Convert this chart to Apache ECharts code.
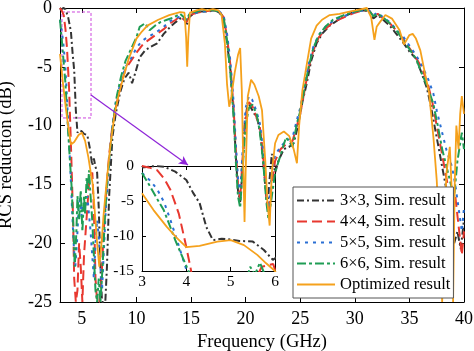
<!DOCTYPE html>
<html><head><meta charset="utf-8">
<script src="https://cdn.jsdelivr.net/npm/echarts@6/dist/echarts.min.js"></script>
<style>html,body{margin:0;padding:0;background:#fff}#c{width:474px;height:351px}</style>
</head><body><div id="c"></div>
<script>
const xTicks=[5,10,15,20,25,30,35,40];
const yTicks=[-25,-20,-15,-10,-5,0];
const insetXTicks=[3,4,5,6];
const insetYTicks=[-15,-10,-5,0];
const names=['3×3, Sim. result','4×4, Sim. result','5×5, Sim. result','6×6, Sim. result','Optimized result'];

const s3x3=[[3,-0.2],[3.3,0],[3.5,-0.1],[3.75,-0.8],[4.0,-2],[4.15,-3.8],[4.3,-5.3],[4.45,-8.7],[4.6,-10.6],[4.8,-10.4],[5.0,-10.5],[5.2,-10.7],[5.5,-10.8],[5.75,-12],[5.95,-13.4],[6.1,-12.8],[6.25,-13.5],[6.4,-14],[6.55,-17],[6.7,-22],[6.85,-25],[7.0,-25],[7.15,-25],[7.3,-22],[7.5,-16],[7.8,-11],[8.1,-9],[8.5,-7.2],[8.9,-6],[9.3,-5.5],[9.6,-6.4],[9.9,-5.5],[10.3,-4.2],[10.8,-3.6],[11.3,-3.3],[11.9,-3.0],[12.5,-2.2],[13.1,-1.6],[13.6,-1.2],[14.0,-0.9],[14.4,-0.8],[14.6,-1.5],[14.8,-0.8],[15.2,-0.5],[15.8,-0.3],[16.5,-0.3],[17.2,-0.2],[17.6,-0.4],[18.0,-1.0],[18.3,-3],[18.6,-5.2],[18.9,-9],[19.1,-12.5],[19.3,-15.5],[19.5,-16.5],[19.7,-14],[19.9,-10],[20.2,-8],[20.5,-8.5],[20.8,-9],[21.1,-9.5],[21.4,-11],[21.7,-14],[22.0,-17],[22.2,-14.5],[22.4,-12.4],[22.7,-14],[23.0,-13],[23.5,-12],[24.0,-11.8],[24.4,-11.5],[24.8,-10],[25.2,-8],[25.6,-6.4],[26.0,-4.5],[26.5,-3.0],[27,-2.2],[27.7,-1.5],[28.5,-1.0],[29.3,-0.6],[30,-0.3],[30.8,-0.2],[31.3,-0.3],[31.7,-0.9],[32.1,-0.6],[32.6,-1.0],[33.2,-1.5],[33.8,-2.2],[34.4,-2.9],[35,-3.7],[35.6,-4.3],[36.1,-5.5],[36.6,-6.8],[37.0,-8.5],[37.4,-10.5],[37.8,-12.5],[38.2,-14.5],[38.5,-16],[38.8,-18],[39.1,-20],[39.4,-19],[39.7,-20.5],[40,-18]];

const s4x4=[[3,0],[3.15,-0.2],[3.34,-0.6],[3.5,-1.8],[3.64,-3.4],[3.83,-6.8],[3.98,-11],[4.09,-14.4],[4.2,-18],[4.3,-23],[4.45,-25],[4.6,-24],[4.75,-20],[4.9,-22],[5.05,-25],[5.2,-21],[5.35,-19],[5.5,-17],[5.7,-14.4],[5.96,-14],[6.1,-17],[6.25,-23],[6.4,-25],[6.6,-25],[6.8,-23],[7.0,-19],[7.2,-16],[7.5,-12.5],[7.8,-10],[8.1,-8.5],[8.5,-6.8],[9.0,-5.2],[9.5,-4.5],[10,-3.8],[10.5,-3.2],[11,-2.8],[11.9,-2.2],[12.5,-1.8],[13.1,-1.3],[13.6,-1.0],[14.0,-0.7],[14.6,-1.2],[14.9,-0.6],[15.5,-0.4],[16.2,-0.3],[17,-0.2],[17.6,-0.3],[18.0,-0.8],[18.3,-2.5],[18.6,-4.8],[18.9,-8.5],[19.1,-12],[19.3,-15],[19.5,-16.3],[19.7,-13],[20.0,-9.5],[20.3,-8],[20.6,-8.3],[21.0,-9.3],[21.3,-10.1],[21.6,-12.5],[21.9,-16],[22.1,-17.5],[22.4,-15],[22.7,-13],[23.2,-12],[23.7,-11.6],[24.3,-11.3],[24.7,-10],[25.0,-9],[25.4,-7],[25.8,-5],[26.2,-3.6],[26.7,-2.5],[27.3,-1.8],[28,-1.2],[29,-0.8],[30,-0.4],[30.8,-0.2],[31.3,-0.2],[31.7,-0.7],[32.1,-0.5],[32.6,-0.9],[33.2,-1.3],[33.8,-1.9],[34.4,-2.6],[35,-3.4],[35.6,-4.2],[36.2,-5.2],[36.7,-6.5],[37.1,-8],[37.5,-10],[37.9,-12],[38.3,-14],[38.6,-15.5],[38.9,-17.5],[39.2,-16],[39.5,-18.5],[39.8,-21],[40,-19]];

const s5x5=[[3,-1],[3.17,-2],[3.34,-3.3],[3.5,-5.2],[3.64,-7.7],[3.75,-9.8],[3.86,-12],[3.98,-14.4],[4.1,-17],[4.25,-20],[4.4,-22],[4.55,-20],[4.7,-17],[4.85,-16],[5.0,-18],[5.15,-16.5],[5.3,-17],[5.5,-16],[5.65,-17.5],[5.8,-19],[5.95,-21],[6.1,-23],[6.25,-20],[6.4,-18],[6.55,-19.5],[6.7,-22],[6.85,-24],[7.0,-21],[7.2,-17],[7.5,-13],[7.8,-10],[8.1,-8],[8.5,-6.5],[9.0,-5.0],[9.5,-4.3],[10,-3.4],[10.5,-2.8],[11,-2.5],[11.9,-2.0],[12.5,-1.6],[13.1,-1.1],[13.6,-0.9],[14,-0.7],[14.6,-1.1],[14.9,-0.6],[15.5,-0.4],[16.2,-0.3],[17,-0.2],[17.6,-0.3],[18.0,-0.7],[18.3,-2.2],[18.6,-4.5],[18.9,-8],[19.1,-11.5],[19.3,-14.5],[19.5,-15.8],[19.7,-12.5],[20.0,-8.5],[20.3,-7.5],[20.6,-7.8],[21.0,-8.8],[21.3,-9.8],[21.6,-12],[21.9,-15.5],[22.1,-17],[22.4,-14],[22.7,-12.5],[23.2,-11.8],[23.7,-11.3],[24.3,-11],[24.7,-9.5],[25.0,-8.5],[25.4,-6.5],[25.8,-4.7],[26.2,-3.3],[26.7,-2.3],[27.3,-1.6],[28,-1.1],[29,-0.7],[30,-0.35],[30.8,-0.2],[31.3,-0.2],[31.7,-0.6],[32.1,-0.4],[32.6,-0.8],[33.2,-1.2],[33.8,-1.8],[34.4,-2.4],[35,-3.2],[35.6,-4.0],[36.2,-5.0],[36.7,-6.0],[37.2,-7.3],[37.5,-8.7],[38.0,-10.6],[38.4,-12.1],[38.9,-13.5],[39.2,-15],[39.5,-17],[39.8,-19],[40,-17]];

const s6x6=[[3,-1],[3.19,-3],[3.35,-4.8],[3.49,-6.3],[3.62,-8.4],[3.75,-10.6],[3.94,-13.4],[4.05,-15],[4.2,-18],[4.35,-22],[4.5,-19],[4.6,-16],[4.75,-18],[4.9,-15.5],[5.05,-19],[5.2,-16],[5.3,-17.5],[5.44,-14.4],[5.55,-15.5],[5.66,-13.8],[5.8,-16],[5.95,-18],[6.1,-21],[6.25,-24],[6.4,-25],[6.55,-23],[6.7,-25],[6.9,-22],[7.1,-18],[7.3,-15],[7.6,-12],[7.9,-9.5],[8.2,-7.5],[8.6,-5.8],[9.0,-4.5],[9.5,-3.5],[10,-2.5],[10.3,-1.6],[10.8,-1.3],[11.2,-1.9],[11.7,-1.5],[12.2,-1.2],[12.8,-1.0],[13.4,-0.8],[14,-0.5],[14.6,-1.0],[14.9,-0.4],[15.5,-0.3],[16.2,-0.2],[17,-0.2],[17.6,-0.3],[18.0,-0.9],[18.3,-2.8],[18.6,-5.5],[18.9,-9.2],[19.1,-13],[19.3,-16],[19.5,-17],[19.7,-14],[20.0,-10],[20.3,-8.5],[20.6,-8.2],[21.0,-9.0],[21.3,-10.5],[21.6,-13],[21.9,-16.5],[22.1,-18],[22.4,-16],[22.7,-14],[23.2,-12.5],[23.7,-11],[24.3,-11.8],[24.7,-9.8],[25.0,-8.8],[25.4,-6.8],[25.8,-4.9],[26.2,-3.4],[26.7,-2.3],[27.3,-1.6],[28,-1.0],[29,-0.6],[30,-0.3],[30.8,-0.15],[31.3,-0.2],[31.7,-0.7],[32.1,-0.5],[32.6,-0.8],[33.2,-1.3],[33.8,-1.9],[34.4,-2.7],[35,-3.5],[35.6,-4.3],[36.2,-5.7],[36.7,-6.8],[37.2,-8.2],[37.6,-10],[38.0,-12],[38.4,-13.5],[38.8,-15],[39.1,-16],[39.4,-13],[39.8,-10.6],[40,-12]];

const sOpt=[[3,-3.9],[3.26,-6.3],[3.56,-8.7],[3.79,-10.3],[4.0,-11.6],[4.3,-11.4],[4.7,-10.8],[5.0,-10.6],[5.3,-11.3],[5.6,-12.7],[5.8,-13.9],[6.0,-15],[6.2,-17.5],[6.4,-20],[6.6,-22],[6.8,-20],[7.0,-17.5],[7.3,-14.5],[7.6,-11.8],[8.0,-9],[8.4,-7.3],[8.8,-5.9],[9.3,-4.3],[10.0,-2.6],[10.5,-2.0],[11,-1.5],[12,-1.0],[13,-0.6],[14,-0.35],[14.4,-0.4],[14.55,-2.5],[14.65,-5.0],[14.75,-2.5],[14.9,-0.4],[15.5,-0.2],[16,-0.1],[16.5,-0.2],[17,-0.1],[17.5,-0.2],[17.8,-0.6],[18.1,-3],[18.3,-6.5],[18.5,-8.4],[18.7,-7.5],[19.0,-5.5],[19.3,-4.0],[19.5,-3.4],[19.65,-7],[19.8,-14],[19.9,-18.2],[20.0,-14],[20.2,-7.5],[20.5,-6.1],[20.8,-6.5],[21.2,-7.5],[21.5,-8.7],[21.8,-13],[22.0,-16.5],[22.2,-18.5],[22.4,-14],[22.7,-11.5],[23.0,-10.8],[23.5,-10.5],[24.0,-10.9],[24.4,-12],[24.7,-13.2],[24.9,-10],[25.2,-7],[25.6,-4.8],[26.0,-2.6],[26.5,-1.5],[27,-1.0],[27.7,-0.6],[28.6,-0.5],[29.5,-0.3],[30.3,-0.15],[31.1,0],[31.5,-0.8],[31.8,-2.7],[32.0,-1.6],[32.3,-1.2],[32.8,-0.6],[33.4,-0.9],[34.1,-1.9],[34.5,-3.1],[35.0,-2.3],[35.3,-2.2],[35.6,-2.6],[36.0,-3.6],[36.5,-5.9],[36.8,-7.2],[37.2,-11],[37.5,-14.6],[37.8,-20],[38.0,-25],[38.2,-18],[38.4,-14],[38.7,-11.8],[38.9,-16],[39.0,-25],[39.15,-15],[39.3,-10],[39.5,-12],[39.65,-9],[39.8,-7.5],[40,-9]];

const zoomBox=[[3.18,-0.34],[5.84,-9.35]];
const arrowLine=[[5.84,-7.4],[14.72,-13.35]];

const FF='"Liberation Serif","Times New Roman",serif';
const colors=['#333333','#e8382f','#2a6fd4','#1f9d55','#f5a11c'];
const dashes=[[7,3,2,3],[10,5],[3,5],[9,3,3,3],'solid'];
const widths=[2,2,2,2,1.8];
const datas=[s3x3,s4x4,s5x5,s6x6,sOpt];

function axisBase(extra){
  return Object.assign({type:'value',splitLine:{show:false},
    axisLine:{onZero:false,lineStyle:{color:'#000',width:1}},
    axisTick:{inside:true,length:5,lineStyle:{color:'#000'}},
    axisLabel:{color:'#000',fontFamily:FF,fontSize:18}},extra);
}

const xAxes=[
  axisBase({gridIndex:0,min:3,max:40,position:'bottom',
    axisTick:{inside:true,length:5,customValues:xTicks,lineStyle:{color:'#000'}},
    axisLabel:{customValues:xTicks,color:'#000',fontFamily:FF,fontSize:18,margin:8},
    name:'Frequency (GHz)',nameLocation:'middle',nameGap:29,
    nameTextStyle:{color:'#000',fontFamily:FF,fontSize:18.5}}),
  axisBase({gridIndex:0,min:3,max:40,position:'top',
    axisTick:{inside:true,length:5,customValues:xTicks,lineStyle:{color:'#000'}},
    axisLabel:{show:false}}),
  axisBase({gridIndex:1,min:3,max:6,interval:1,position:'bottom',
    axisTick:{inside:true,length:4,lineStyle:{color:'#000'}},
    axisLabel:{color:'#000',fontFamily:FF,fontSize:15.5,margin:3}}),
  axisBase({gridIndex:1,min:3,max:6,interval:1,position:'top',
    axisTick:{inside:true,length:4,lineStyle:{color:'#000'}},axisLabel:{show:false}})
];
const yAxes=[
  axisBase({gridIndex:0,min:-25,max:0,interval:5,position:'left',
    axisTick:{inside:true,length:5,lineStyle:{color:'#000'}},
    axisLabel:{color:'#000',fontFamily:FF,fontSize:18,margin:8},
    name:'RCS reduction (dB)',nameLocation:'middle',nameGap:44,
    nameTextStyle:{color:'#000',fontFamily:FF,fontSize:18.5}}),
  axisBase({gridIndex:0,min:-25,max:0,interval:5,position:'right',
    axisTick:{inside:true,length:5,lineStyle:{color:'#000'}},axisLabel:{show:false}}),
  axisBase({gridIndex:1,min:-15,max:0,interval:5,position:'left',
    axisTick:{inside:true,length:4,lineStyle:{color:'#000'}},
    axisLabel:{color:'#000',fontFamily:FF,fontSize:15.5,margin:8}}),
  axisBase({gridIndex:1,min:-15,max:0,interval:5,position:'right',
    axisTick:{inside:true,length:4,lineStyle:{color:'#000'}},axisLabel:{show:false}})
];

const series=[];
for(let i=0;i<5;i++){
  series.push({name:names[i],type:'line',xAxisIndex:0,yAxisIndex:0,data:datas[i],
    symbol:'none',showSymbol:false,clip:true,silent:true,animation:false,z:2+i*0.01,
    lineStyle:{color:colors[i],width:widths[i],type:dashes[i]},itemStyle:{color:colors[i]}});
}
for(let i=0;i<5;i++){
  series.push({name:names[i],type:'line',xAxisIndex:2,yAxisIndex:2,data:datas[i],
    symbol:'none',showSymbol:false,clip:true,silent:true,animation:false,
    lineStyle:{color:colors[i],width:widths[i],type:dashes[i]},itemStyle:{color:colors[i]}});
}
series[4].markArea={silent:true,itemStyle:{color:'rgba(0,0,0,0)',borderColor:'#cc44dd',borderWidth:1,borderType:[3,2]},
  label:{show:false},data:[[{coord:zoomBox[0]},{coord:zoomBox[1]}]]};
series[4].markLine={silent:true,symbol:['none','arrow'],symbolSize:[7,9],label:{show:false},
  lineStyle:{color:'#8e24d8',width:1.2,type:'solid'},animation:false,
  data:[[{coord:arrowLine[0]},{coord:arrowLine[1]}]]};

const option={
  backgroundColor:'#fff',animation:false,
  grid:[
    {left:60,top:8,right:10,bottom:49,outerBoundsMode:'none',containLabel:false},
    {left:142,top:166,width:133,height:105,outerBoundsMode:'none',containLabel:false}
  ],
  xAxis:xAxes,yAxis:yAxes,
  legend:{data:names,orient:'vertical',left:293,top:187,itemWidth:38,itemHeight:14,itemGap:4,
    padding:[5,3,5,3],backgroundColor:'#fff',borderColor:'#555',borderWidth:1,
    itemStyle:{color:'rgba(0,0,0,0)',borderColor:'rgba(0,0,0,0)',borderWidth:0,opacity:0},
    textStyle:{color:'#000',fontFamily:FF,fontSize:16.5},selectedMode:false},
  series:series
};
const chart=echarts.init(document.getElementById('c'),null,{renderer:'canvas'});
chart.setOption(option);
</script></body></html>
